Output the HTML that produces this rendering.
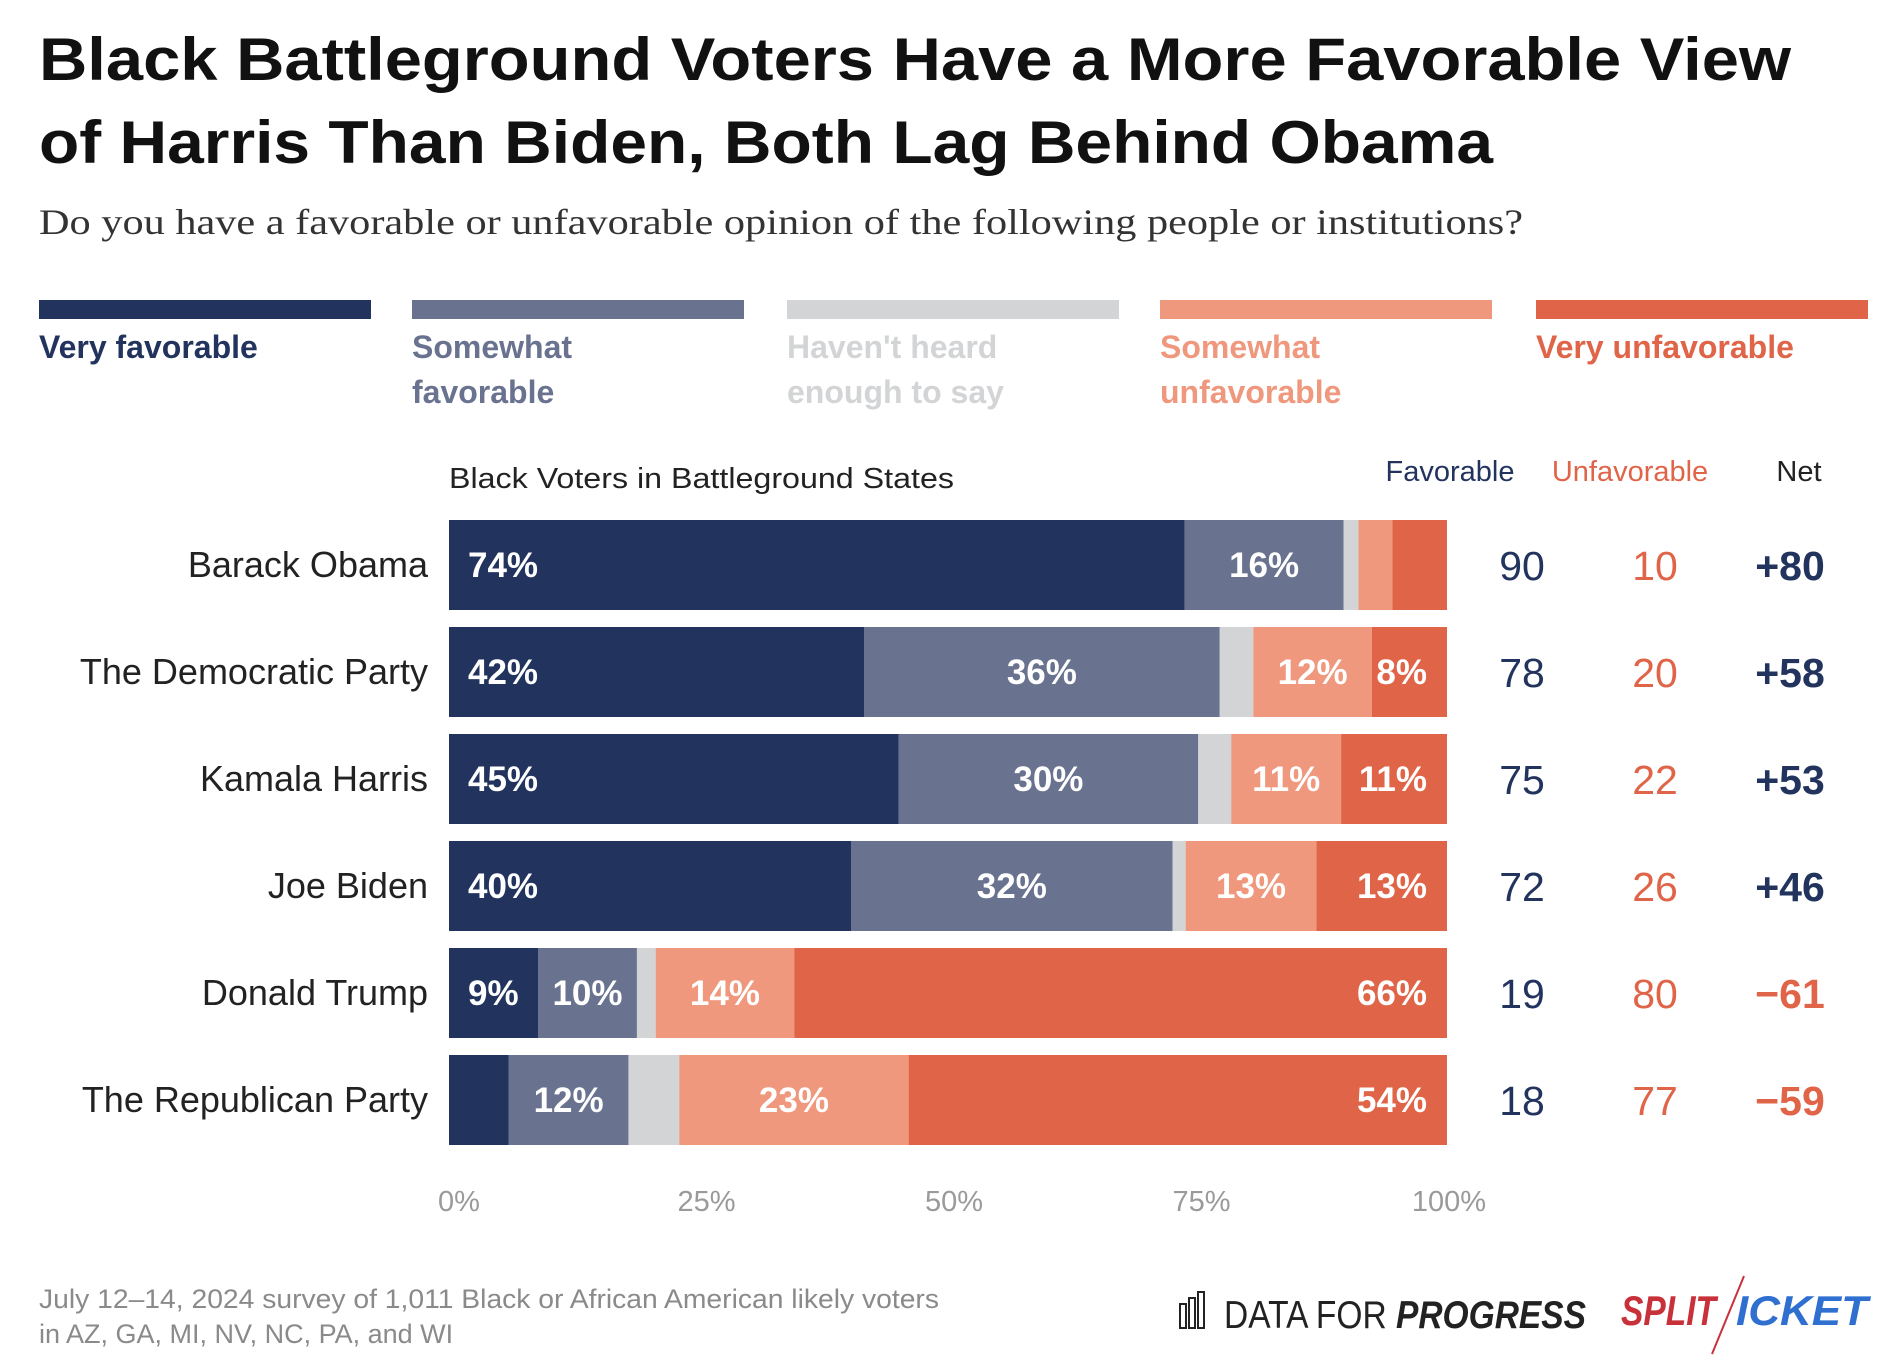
<!DOCTYPE html>
<html><head><meta charset="utf-8"><style>
html,body{margin:0;padding:0;background:#fff;}
svg{display:block;font-family:"Liberation Sans",sans-serif;}
</style></head><body>
<svg id="chart" width="1904" height="1368" viewBox="0 0 1904 1368" xmlns="http://www.w3.org/2000/svg">
<rect width="1904" height="1368" fill="#fff"/>
<g font-weight="bold" font-size="60" fill="#111">
<text x="39" y="80" textLength="1752" lengthAdjust="spacingAndGlyphs">Black Battleground Voters Have a More Favorable View</text>
<text x="39" y="163" textLength="1454" lengthAdjust="spacingAndGlyphs">of Harris Than Biden, Both Lag Behind Obama</text>
</g>
<text x="39" y="234" font-family="Liberation Serif,serif" font-size="36" fill="#333" textLength="1484" lengthAdjust="spacingAndGlyphs">Do you have a favorable or unfavorable opinion of the following people or institutions?</text>
<g id="legend" font-weight="bold" font-size="32"></g>
<text x="449" y="488" font-size="29" fill="#222" textLength="505" lengthAdjust="spacingAndGlyphs">Black Voters in Battleground States</text>
<text x="1450" y="481" font-size="29" fill="#22345e" text-anchor="middle">Favorable</text>
<text x="1630" y="481" font-size="29" fill="#e06548" text-anchor="middle">Unfavorable</text>
<text x="1799" y="481" font-size="29" fill="#222" text-anchor="middle">Net</text>
<g id="bars"></g>
<g id="axis"></g>
<g font-size="27" fill="#8a8a8a">
<text x="39" y="1308" textLength="900" lengthAdjust="spacingAndGlyphs">July 12–14, 2024 survey of 1,011 Black or African American likely voters</text>
<text x="39" y="1343">in AZ, GA, MI, NV, NC, PA, and WI</text>
</g>
<g>
<rect x="1180" y="1304" width="6" height="24" fill="none" stroke="#222" stroke-width="2"/>
<rect x="1189" y="1298" width="6" height="30" fill="none" stroke="#222" stroke-width="2"/>
<rect x="1198" y="1292" width="6" height="36" fill="none" stroke="#222" stroke-width="2"/>
<text x="1224" y="1328" font-size="39" fill="#222" textLength="362" lengthAdjust="spacingAndGlyphs">DATA FOR <tspan font-weight="bold" font-style="italic">PROGRESS</tspan></text>
</g>
<g font-weight="bold" font-style="italic" font-size="42">
<text x="1621" y="1325" fill="#c8313a" textLength="95" lengthAdjust="spacingAndGlyphs">SPLIT</text>
<text x="1736" y="1325" fill="#2f6fd0" textLength="132" lengthAdjust="spacingAndGlyphs">ICKET</text>
<line x1="1744" y1="1276" x2="1712" y2="1354" stroke="#c8313a" stroke-width="2"/>
</g>
</svg>
<script>
const categories = ["Barack Obama","The Democratic Party","Kamala Harris","Joe Biden","Donald Trump","The Republican Party"];
const veryFav = [74,42,45,40,9,6];
const somewhatFav = [16,36,30,32,10,12];
const notHeard = [1.5,3.4,3.3,1.3,1.9,5.1];
const somewhatUnfav = [3.4,12,11,13,14,23];
const veryUnfav = [5.5,7.6,10.6,13,66,54];
const veryFavLabels = ["74%","42%","45%","40%","9%",""];
const somewhatFavLabels = ["16%","36%","30%","32%","10%","12%"];
const somewhatUnfavLabels = ["","12%","11%","13%","14%","23%"];
const veryUnfavLabels = ["","8%","11%","13%","66%","54%"];
const favTotals = [90,78,75,72,19,18];
const unfavTotals = [10,20,22,26,80,77];
const netValues = ["+80","+58","+53","+46","−61","−59"];
const tickValues = [0,25,50,75,100];
const tickLabels = ["0%","25%","50%","75%","100%"];
const legendLabels = [["Very favorable"],["Somewhat","favorable"],["Haven't heard","enough to say"],["Somewhat","unfavorable"],["Very unfavorable"]];

const NS="http://www.w3.org/2000/svg";
const colors=["#22345e","#69728f","#d3d4d6","#ef987d","#e06548"];
const x0=449,x1=1447,rowTop=520,pitch=107,barH=90;
function xScale(v){return x0+(x1-x0)*v/100;}
function yScale(i){return rowTop+i*pitch;}
function mk(tag,attrs,parent){const e=document.createElementNS(NS,tag);for(const k in attrs)e.setAttribute(k,attrs[k]);parent.appendChild(e);return e;}

const legend=document.getElementById('legend');
const legX=[39,412,787,1160,1536];
legendLabels.forEach((lines,i)=>{
  const r=mk('rect',{x:legX[i],y:300,width:332,height:19,fill:colors[i]},legend);
  
  
  lines.forEach((l,j)=>{
    const t=mk('text',{x:legX[i],y:358+j*45,fill:colors[i]},legend);
    t.textContent=l;
    
    
  });
});

const bars=document.getElementById('bars');
const series=[veryFav,somewhatFav,notHeard,somewhatUnfav,veryUnfav];
const labels=[veryFavLabels,somewhatFavLabels,null,somewhatUnfavLabels,veryUnfavLabels];
categories.forEach((c,i)=>{
  const y=yScale(i);
  const lab=mk('text',{x:428,y:y+barH/2+12,'text-anchor':'end','font-size':36,fill:'#222'},bars);
  lab.textContent=c;
  
  
  const total=series.reduce((s,a)=>s+a[i],0);
  let acc=0;
  series.forEach((arr,k)=>{
    const v=arr[i]/total*100;
    const xa=xScale(acc),xb=xScale(acc+v);
    const r=mk('rect',{x:xa,y:y,width:xb-xa,height:barH,fill:colors[k]},bars);
    
    
    if(labels[k]&&labels[k][i]){
      let tx,anchor;
      if(k===0){tx=xa+19;anchor='start';}
      else if(k===4){tx=xb-20;anchor='end';}
      else {tx=(xa+xb)/2;anchor='middle';}
      const t=mk('text',{x:tx,y:y+barH/2+12,'text-anchor':anchor,'font-size':35,'font-weight':'bold',fill:'#fff'},bars);
      t.textContent=labels[k][i];
      
      
    }
    acc+=v;
  });
  const f=mk('text',{x:1522,y:y+barH/2+15,'text-anchor':'middle','font-size':41,fill:'#22345e'},bars);
  f.textContent=favTotals[i];
  
  
  const u=mk('text',{x:1655,y:y+barH/2+15,'text-anchor':'middle','font-size':41,fill:'#e06548'},bars);
  u.textContent=unfavTotals[i];
  
  
  const n=mk('text',{x:1790,y:y+barH/2+15,'text-anchor':'middle','font-size':41,'font-weight':'bold',fill:netValues[i].startsWith('+')?'#22345e':'#e06548'},bars);
  n.textContent=netValues[i];
  
  
});

const axis=document.getElementById('axis');
tickValues.forEach((v,i)=>{
  const t=mk('text',{x:xScale(v)+10-v*0.08,y:1211,'text-anchor':'middle','font-size':29,fill:'#9a9a9a'},axis);
  t.textContent=tickLabels[i];
  
  
});
</script>
</body></html>
